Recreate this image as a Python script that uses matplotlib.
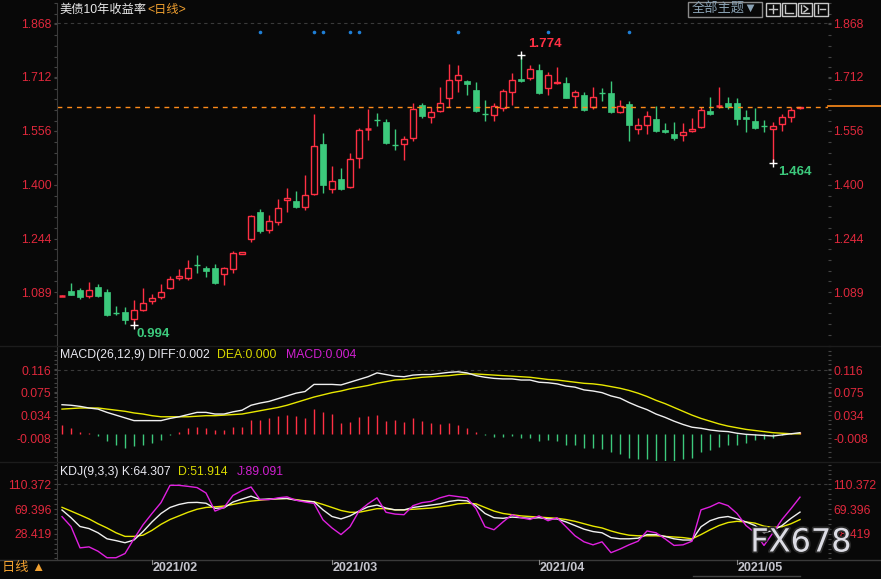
import matplotlib
matplotlib.use('Agg')
import matplotlib.pyplot as plt
from matplotlib.patches import Rectangle
import matplotlib.patheffects as pe
import numpy as np

plt.rcParams['font.family'] = ['Liberation Sans', 'Noto Sans CJK SC', 'DejaVu Sans']

W, H = 881, 579
BG = '#080808'
RED = '#ff3044'
GREEN = '#3cc97c'
LBL = '#e0283c'
ORANGE = '#f0a030'

# daily OHLC, 10Y US Treasury yield
opens = [1.076, 1.092, 1.094, 1.078, 1.103, 1.089, 1.029, 1.031, 1.012, 1.038,
         1.062, 1.075, 1.101, 1.130, 1.129, 1.167, 1.158, 1.158, 1.141, 1.156,
         1.200, 1.242, 1.320, 1.270, 1.291, 1.356, 1.354, 1.335, 1.372, 1.519,
         1.387, 1.415, 1.393, 1.476, 1.560, 1.588, 1.582, 1.516, 1.517, 1.534,
         1.631, 1.595, 1.614, 1.652, 1.704, 1.701, 1.675, 1.606, 1.603, 1.621,
         1.667, 1.706, 1.710, 1.732, 1.681, 1.693, 1.695, 1.658, 1.660, 1.626,
         1.665, 1.666, 1.609, 1.634, 1.560, 1.572, 1.591, 1.559, 1.548, 1.543,
         1.556, 1.566, 1.614, 1.624, 1.637, 1.637, 1.597, 1.585, 1.569, 1.560,
         1.577, 1.595, 1.621]
highs = [1.080, 1.115, 1.100, 1.117, 1.112, 1.097, 1.048, 1.045, 1.066, 1.100,
         1.083, 1.112, 1.135, 1.155, 1.181, 1.195, 1.164, 1.169, 1.161, 1.207,
         1.206, 1.311, 1.328, 1.311, 1.357, 1.389, 1.383, 1.429, 1.605, 1.550,
         1.455, 1.449, 1.493, 1.564, 1.620, 1.608, 1.590, 1.562, 1.541, 1.637,
         1.635, 1.626, 1.683, 1.750, 1.747, 1.704, 1.698, 1.645, 1.637, 1.677,
         1.724, 1.774, 1.747, 1.750, 1.726, 1.741, 1.712, 1.675, 1.668, 1.683,
         1.680, 1.701, 1.646, 1.643, 1.594, 1.614, 1.628, 1.579, 1.582, 1.579,
         1.594, 1.624, 1.654, 1.683, 1.654, 1.652, 1.617, 1.623, 1.588, 1.580,
         1.605, 1.626, 1.626]
lows = [1.074, 1.079, 1.069, 1.072, 1.076, 1.021, 1.022, 0.996, 0.994, 1.035,
        1.055, 1.069, 1.097, 1.124, 1.123, 1.143, 1.133, 1.112, 1.109, 1.144,
        1.199, 1.233, 1.259, 1.259, 1.282, 1.320, 1.332, 1.326, 1.369, 1.375,
        1.375, 1.384, 1.390, 1.447, 1.530, 1.571, 1.519, 1.501, 1.470, 1.527,
        1.592, 1.579, 1.611, 1.625, 1.667, 1.660, 1.611, 1.585, 1.585, 1.614,
        1.631, 1.698, 1.704, 1.662, 1.661, 1.692, 1.650, 1.626, 1.613, 1.618,
        1.641, 1.607, 1.607, 1.525, 1.548, 1.548, 1.552, 1.549, 1.528, 1.527,
        1.551, 1.564, 1.602, 1.623, 1.618, 1.574, 1.553, 1.561, 1.553, 1.464,
        1.556, 1.582, 1.620]
closes = [1.078, 1.081, 1.075, 1.096, 1.078, 1.023, 1.028, 1.008, 1.037, 1.057,
          1.071, 1.089, 1.128, 1.134, 1.158, 1.165, 1.149, 1.115, 1.158, 1.201,
          1.204, 1.308, 1.265, 1.296, 1.331, 1.360, 1.335, 1.369, 1.513, 1.398,
          1.411, 1.387, 1.475, 1.558, 1.562, 1.586, 1.522, 1.514, 1.532, 1.619,
          1.600, 1.611, 1.636, 1.703, 1.718, 1.690, 1.614, 1.605, 1.628, 1.671,
          1.703, 1.699, 1.734, 1.664, 1.717, 1.697, 1.652, 1.668, 1.615, 1.654,
          1.663, 1.609, 1.628, 1.572, 1.573, 1.599, 1.554, 1.551, 1.534, 1.553,
          1.562, 1.617, 1.606, 1.628, 1.624, 1.591, 1.589, 1.563, 1.568, 1.570,
          1.596, 1.616, 1.625]

# MACD(26,12,9)
diff = [0.053, 0.052, 0.050, 0.047, 0.045, 0.039, 0.034, 0.029, 0.024, 0.024,
        0.024, 0.024, 0.028, 0.031, 0.035, 0.039, 0.039, 0.036, 0.036, 0.040,
        0.043, 0.052, 0.056, 0.059, 0.064, 0.069, 0.074, 0.077, 0.090, 0.090,
        0.090, 0.089, 0.094, 0.099, 0.104, 0.111, 0.108, 0.105, 0.104, 0.107,
        0.108, 0.108, 0.110, 0.112, 0.113, 0.111, 0.106, 0.103, 0.101, 0.100,
        0.100, 0.098, 0.098, 0.094, 0.093, 0.091, 0.087, 0.085, 0.080, 0.078,
        0.075, 0.069, 0.065, 0.057, 0.050, 0.044, 0.036, 0.030, 0.023, 0.017,
        0.012, 0.010, 0.007, 0.005, 0.004, 0.001, -0.001, -0.002, -0.003, -0.004,
        -0.002, 0.000, 0.002]
dea = [0.045, 0.046, 0.047, 0.047, 0.047, 0.045, 0.043, 0.041, 0.038, 0.036,
       0.033, 0.031, 0.031, 0.031, 0.031, 0.032, 0.033, 0.033, 0.034, 0.035,
       0.036, 0.039, 0.042, 0.045, 0.048, 0.052, 0.057, 0.062, 0.067, 0.071,
       0.075, 0.078, 0.082, 0.085, 0.088, 0.092, 0.095, 0.098, 0.099, 0.101,
       0.103, 0.104, 0.105, 0.106, 0.108, 0.109, 0.109, 0.108, 0.107, 0.106,
       0.105, 0.104, 0.103, 0.101, 0.099, 0.098, 0.096, 0.094, 0.092, 0.091,
       0.089, 0.086, 0.083, 0.079, 0.074, 0.068, 0.061, 0.055, 0.048, 0.041,
       0.034, 0.028, 0.023, 0.018, 0.014, 0.011, 0.008, 0.006, 0.004, 0.002,
       0.001, 0.000, 0.000]
macd = [0.016, 0.011, 0.004, 0.001, -0.004, -0.013, -0.020, -0.025, -0.023, -0.021,
        -0.016, -0.012, -0.003, 0.004, 0.010, 0.013, 0.011, 0.007, 0.007, 0.012,
        0.013, 0.026, 0.026, 0.028, 0.032, 0.035, 0.033, 0.028, 0.046, 0.039,
        0.036, 0.020, 0.022, 0.031, 0.033, 0.035, 0.024, 0.026, 0.022, 0.028,
        0.024, 0.020, 0.018, 0.020, 0.016, 0.010, 0.004, -0.003, -0.006, -0.005,
        -0.004, -0.008, -0.008, -0.014, -0.012, -0.014, -0.020, -0.020, -0.026, -0.026,
        -0.028, -0.034, -0.036, -0.044, -0.046, -0.046, -0.050, -0.050, -0.050, -0.046,
        -0.044, -0.034, -0.030, -0.024, -0.020, -0.020, -0.016, -0.012, -0.010, -0.008,
        -0.002, 0.002, 0.004]

# KDJ(9,3,3)
k_line = [67.8, 55, 40.4, 37, 30, 20, 17, 13.5, 18, 32,
          48, 62, 72, 77, 80, 80.4, 79, 70.5, 71.4, 81,
          86, 90.7, 85.3, 86, 86.5, 86.9, 84, 82.5, 81.4, 68,
          57, 53, 58, 66, 73, 76, 71, 68, 68, 72,
          74, 76, 78, 82, 84, 83, 75, 62, 55, 54,
          56, 55, 54, 55, 53, 53, 48, 42, 36, 32,
          30, 22, 20, 20, 21, 27, 27, 24, 20, 18,
          18, 40, 50, 55, 57, 53, 48, 42, 30, 34,
          42, 54, 64.307]
d_line = [72.2, 66, 59.6, 53, 45, 38, 30, 24, 24, 26,
          34, 44, 52, 58, 64, 69, 72, 73, 74.3, 77,
          80, 82.5, 84, 85.5, 86.5, 86.9, 85, 83, 81.4, 77,
          72, 67, 64, 64, 67, 70, 70, 68, 68, 69,
          70, 71, 73, 75, 78, 79, 78, 72, 66, 62,
          60, 58, 57, 56, 55, 54, 52, 49, 45, 41,
          38, 33, 29, 26, 25, 25, 25, 24, 23, 22,
          20, 27, 35, 42, 47, 49, 48, 46, 41, 39,
          40, 45, 51.914]
j_line = [56.8, 40.4, 5.0, 6.6, -0.6, -11.4, -11.4, -4.4, 20, 43.2,
          62, 80, 108.7, 108.7, 107, 105, 96, 66, 72, 92,
          100, 106, 85, 85, 88, 89.6, 84, 81, 78.7, 51.4,
          38, 27, 40, 66, 78, 88, 64, 61, 60, 75,
          80, 82, 88, 92, 90, 88, 70, 40, 35, 48,
          60, 55, 52, 58, 50, 55, 40, 25, 15, 10,
          15, -3, 3, 10, 16, 33, 30, 20, 9, 10,
          16, 68, 73, 80, 75, 62, 42, 30, 9, 30,
          52, 70, 89.091]

month_idx = [10, 30, 53, 75]
month_lbl = ['2021/02', '2021/03', '2021/04', '2021/05']
event_idx = [22, 28, 29, 32, 33, 44, 54, 63]
event_level = 1.842

price_ticks = [1.089, 1.244, 1.400, 1.556, 1.712, 1.868]
macd_ticks = [-0.008, 0.034, 0.075, 0.116]
kdj_ticks = [28.419, 69.396, 110.372]

n = len(closes)
idx = np.arange(n)
XL = (-0.556, 85.11)

fig = plt.figure(figsize=(W / 100, H / 100), dpi=100, facecolor=BG)


def add_ax(y0, y1, ylim, ticks, fmt):
    ax = fig.add_axes([57 / W, 1 - y1 / H, (828 - 57) / W, (y1 - y0) / H])
    ax.set_facecolor(BG)
    ax.set_xlim(*XL)
    ax.set_ylim(*ylim)
    for s in ['top', 'bottom', 'right']:
        ax.spines[s].set_visible(False)
    ax.spines['left'].set_color('#3a3a3a')
    ax.set_xticks([])
    ax.set_yticks(ticks)
    ax.set_yticklabels([fmt % t for t in ticks])
    step = (ticks[1] - ticks[0]) / 5
    ax.set_yticks(np.arange(ylim[0], ylim[1], step) + (ticks[0] - ylim[0]) % step, minor=True)
    ax.tick_params(axis='y', which='both', colors='#444444', labelcolor=LBL, labelsize=8.8,
                   length=2, width=0.8, direction='out', left=True, right=True,
                   labelleft=True, labelright=True, pad=2)
    ax.axhline(ticks[-1], color='#3a3a3a', lw=0.8, ls=(0, (3, 3)))
    return ax


def px(x, y):
    return x / W, 1 - y / H


# ---- price panel ----
ax1 = add_ax(3, 345, (0.9356, 1.9228), price_ticks, '%.3f')
bw = 0.36
for i in range(n):
    o, h, l, c = opens[i], highs[i], lows[i], closes[i]
    top, bot = max(o, c), min(o, c)
    if c >= o:
        ax1.vlines(i, top, h, color=RED, lw=1)
        ax1.vlines(i, l, bot, color=RED, lw=1)
        if top - bot < 0.004:
            ax1.hlines(top, i - bw, i + bw, color=RED, lw=1.8)
        else:
            ax1.add_patch(Rectangle((i - bw, bot), 2 * bw, top - bot, fill=False, ec=RED, lw=1))
    else:
        ax1.vlines(i, l, h, color=GREEN, lw=1)
        if top - bot < 0.003:
            ax1.hlines(top, i - bw, i + bw, color=GREEN, lw=1)
        else:
            ax1.add_patch(Rectangle((i - bw, bot), 2 * bw, top - bot, fc=GREEN, ec=GREEN, lw=0.5))

last = closes[-1]
ax1.axhline(last, color='#ff8c1a', lw=1, ls=(0, (3.5, 3.5)))
fig.add_artist(plt.Line2D([828 / W, 1], [1 - 106 / H, 1 - 106 / H], color='#ff8c1a', lw=1.2))
ax1.plot(event_idx, [event_level] * len(event_idx), 'o', color='#1f7fd6', ms=2.6, mew=0)

hi_i = int(np.argmax(highs))
lo_i = int(np.argmin(lows))
late_lo = 79
for j in (hi_i, lo_i, late_lo):
    ax1.plot(j, lows[j] if j != hi_i else highs[j], '+', color='white', ms=6, mew=1)
ax1.text(hi_i + 0.8, highs[hi_i] + 0.015, '%.3f' % highs[hi_i], color=RED, fontsize=9.5,
         fontweight='bold', va='bottom', ha='left')
ax1.text(lo_i + 0.3, lows[lo_i] - 0.01, '%.3f' % lows[lo_i], color=GREEN, fontsize=9.5,
         fontweight='bold', va='top', ha='left')
ax1.text(late_lo + 0.6, lows[late_lo] - 0.01, '%.3f' % lows[late_lo], color=GREEN, fontsize=9.5,
         fontweight='bold', va='top', ha='left')

# ---- MACD panel ----
ax2 = add_ax(346, 461, (-0.0496, 0.156), macd_ticks, '%.3f')
for i in range(n):
    ax2.vlines(i, 0, macd[i], color=RED if macd[i] > 0 else GREEN, lw=1)
ax2.plot(idx, dea, color='#e8e800', lw=1)
ax2.plot(idx, diff, color='#f0f0f0', lw=1)

# ---- KDJ panel ----
ax3 = add_ax(462, 559, (-13.5, 147.4), kdj_ticks, '%.3f')
ax3.plot(idx, d_line, color='#e8e800', lw=1)
ax3.plot(idx, k_line, color='#f0f0f0', lw=1)
ax3.plot(idx, j_line, color='#e020e0', lw=1)

# separators
for yy, cc in [(345.5, '#1c1c1c'), (461.5, '#1c1c1c'), (559.5, '#3a3a3a')]:
    fig.add_artist(plt.Line2D([0, 1], [1 - yy / H] * 2, color=cc, lw=1))

# date axis
for mi, ml in zip(month_idx, month_lbl):
    xp = 62 + 9 * mi
    fig.add_artist(plt.Line2D([xp / W] * 2, [1 - 560 / H, 1 - 564 / H], color='#888888', lw=0.8))
    fig.text(*px(xp + 1, 568), ml, color='#c4c4cc', fontsize=9, fontweight='bold', va='center', ha='left')
fig.add_artist(plt.Line2D([693 / W, 800 / W], [1 - 575.5 / H] * 2, color='#444444', lw=1))
fig.text(*px(2, 568), '日线 ▲', color=ORANGE, fontsize=9.5, va='center', ha='left')

# titles / legends
renderer = fig.canvas.get_renderer()
t1 = fig.text(*px(59, 10), '美债10年收益率', color='#e8e8e8', fontsize=8.8, va='center')
bb = t1.get_window_extent(renderer)
fig.text(bb.x1 / W + 1 / W, 1 - 10 / H, '<日线>', color=ORANGE, fontsize=8.8, va='center')
fig.text(*px(60, 355), 'MACD(26,12,9) DIFF:%.3f' % diff[-1], color='#e8e8f0', fontsize=8.8, va='center')
fig.text(*px(217, 355), 'DEA:%.3f' % dea[-1], color='#d8d800', fontsize=8.8, va='center')
fig.text(*px(286, 355), 'MACD:%.3f' % macd[-1], color='#d020d0', fontsize=8.8, va='center')
fig.text(*px(60, 472), 'KDJ(9,3,3) K:%.3f' % k_line[-1], color='#e8e8f0', fontsize=8.8, va='center')
fig.text(*px(178, 472), 'D:%.3f' % d_line[-1], color='#d8d800', fontsize=8.8, va='center')
fig.text(*px(237, 472), 'J:%.3f' % j_line[-1], color='#d020d0', fontsize=8.8, va='center')

# top-right toolbar
tb = fig.add_axes([0, 0, 1, 1], facecolor='none')
tb.set_xlim(0, W)
tb.set_ylim(H, 0)
tb.axis('off')
tb.add_patch(Rectangle((688, 1.5), 74, 15, fill=False, ec='#8a8a8a', lw=1))
tb.text(725, 9.5, '全部主题▼', color='#8aa2b4', fontsize=9.5, ha='center', va='center')
for bx in (766, 782, 798, 814):
    tb.add_patch(Rectangle((bx, 2.5), 14, 13, fill=False, ec='#c8c8c8', lw=1))
tb.plot([769, 777], [9, 9], color='#c8c8c8', lw=1)
tb.plot([773, 773], [5, 13], color='#c8c8c8', lw=1)
tb.plot([785, 785, 793], [5, 13, 13], color='#c8c8c8', lw=1)
tb.plot([801, 801, 809], [5, 13, 13], color='#c8c8c8', lw=1)
tb.plot([804, 808, 804], [6, 9, 12], color='#c8c8c8', lw=1)
tb.plot([818, 818], [5, 13], color='#c8c8c8', lw=1)
tb.plot([820, 825], [9, 9], color='#c8c8c8', lw=1)

# watermark
tb.text(801, 543, 'FX678', color='#dcdce4', fontsize=23, ha='center', va='center',
        family='DejaVu Sans',
        path_effects=[pe.withStroke(linewidth=2.5, foreground='#2a2a2a')])

fig.savefig('out.png', dpi=100, facecolor=BG)
